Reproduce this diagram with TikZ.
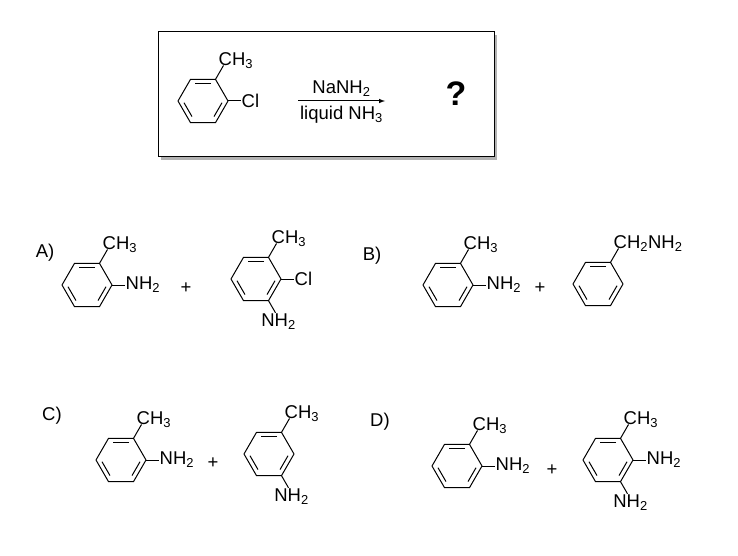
\documentclass[tikz,border=0pt]{standalone}
\usepackage{fontspec}
\setmainfont{Liberation Sans}
\usetikzlibrary{calc}
\tikzset{bond/.style={line width=1pt,line join=round},
 lab/.style={inner sep=1pt,font=\fontsize{18.5}{20}\selectfont},
 opt/.style={inner sep=1pt,font=\fontsize{18.5}{20}\selectfont}}
\newcommand\benz[3]{%
 \coordinate (#1) at (#2,-#3);
 \foreach \a/\n in {0/r,60/tr,120/tl,180/l,240/bl,300/br}{\coordinate (#1\n) at ($(#1)+(\a:25)$);}
 \draw[bond] (#1r)--(#1tr)--(#1tl)--(#1l)--(#1bl)--(#1br)--cycle;
 \foreach \p/\q in {tr/tl,l/bl,br/r}{%
   \coordinate (#1P) at ($(#1)!0.8!(#1\p)$);
   \coordinate (#1Q) at ($(#1)!0.8!(#1\q)$);
   \draw[bond] ($(#1P)!0.1!(#1Q)$)--($(#1Q)!0.1!(#1P)$);}
}
\newcommand\methyl[2]{%
 \coordinate (#2e) at ($(#1tr)+(60:16)$);
 \draw[bond] (#1tr)--(#2e);
 \node[lab,anchor=south west,xshift=-6pt,yshift=-4pt] (#2) at (#2e) {CH\textsubscript{3}};}
\newcommand\rsub[3]{%
 \coordinate (#2e) at ($(#1r)+(13,0)$);
 \draw[bond] (#1r)--(#2e);
 \node[lab,anchor=west,inner sep=0.5pt] (#2) at (#2e) {#3};}
\newcommand\dsub[3]{%
 \coordinate (#2e) at ($(#1br)+(-60:14)$);
 \draw[bond] (#1br)--(#2e);
 \node[lab,anchor=north,inner sep=0.5pt,xshift=3pt] (#2) at (#2e) {#3};}
\begin{document}
\begin{tikzpicture}[x=1pt,y=1pt]
\useasboundingbox (0,0) rectangle (738,-556);
\fill[gray!60] (161,-35) rectangle (497,-160);
\draw[fill=white,line width=1pt] (158,-32) rectangle (494,-157);
\benz{s}{203}{101}
\methyl{s}{sch}
\rsub{s}{scl}{Cl}
\coordinate (aa) at (298,-101); \coordinate (ab) at (385,-101);
\draw[bond,-latex] (aa)--(ab);
\node[lab,above=3pt] (rg1) at ($(aa)!0.5!(ab)$) {NaNH\textsubscript{2}};
\node[lab,below=4pt] (rg2) at ($(aa)!0.5!(ab)$) {liquid NH\textsubscript{3}};
\node[font=\fontsize{34}{36}\selectfont\bfseries] (q) at (456,-94) {?};
% A
\node[opt] (A) at (45,-253) {A)};
\benz{a1}{87}{285}\methyl{a1}{a1m}\rsub{a1}{a1n}{NH\textsubscript{2}}
\node[lab] (pa) at (186,-288) {+};
\benz{a2}{256}{279}\methyl{a2}{a2m}\rsub{a2}{a2c}{Cl}\dsub{a2}{a2n}{NH\textsubscript{2}}
% B
\node[opt] (B) at (372,-256) {B)};
\benz{b1}{448}{285}\methyl{b1}{b1m}\rsub{b1}{b1n}{NH\textsubscript{2}}
\node[lab] (pb) at (540,-288) {+};
\benz{b2}{598}{284}
\coordinate (b2e) at ($(b2tr)+(60:16)$);\draw[bond] (b2tr)--(b2e);
\node[lab,anchor=south west,xshift=-6pt,yshift=-4pt] (b2m) at (b2e) {CH\textsubscript{2}NH\textsubscript{2}};
% C
\node[opt] (C) at (52,-416) {C)};
\benz{c1}{121}{460}\methyl{c1}{c1m}\rsub{c1}{c1n}{NH\textsubscript{2}}
\node[lab] (pc) at (213,-463) {+};
\benz{c2}{269}{454}\methyl{c2}{c2m}\dsub{c2}{c2n}{NH\textsubscript{2}}
% D
\node[opt] (D) at (380,-422) {D)};
\benz{d1}{457}{466}\methyl{d1}{d1m}\rsub{d1}{d1n}{NH\textsubscript{2}}
\node[lab] (pd) at (552,-470) {+};
\benz{d2}{608}{460}\methyl{d2}{d2m}\rsub{d2}{d2a}{NH\textsubscript{2}}\dsub{d2}{d2n}{NH\textsubscript{2}}
\end{tikzpicture}
\end{document}
